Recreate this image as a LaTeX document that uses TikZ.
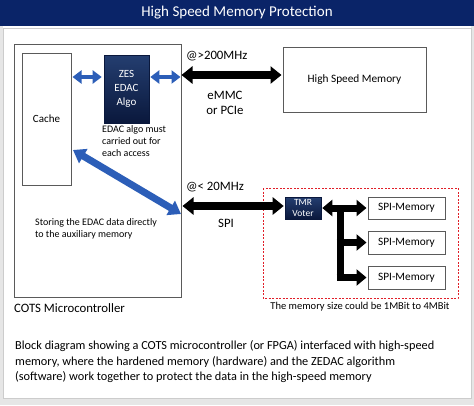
\documentclass[tikz,border=0pt]{standalone}
\usepackage{fontspec}
\setmainfont{Carlito}
\usetikzlibrary{arrows.meta,calc}
\definecolor{navy}{RGB}{10,36,104}
\definecolor{navytop}{RGB}{36,62,112}
\definecolor{navybot}{RGB}{10,24,60}
\definecolor{arrblue}{RGB}{44,94,184}
\definecolor{boxgray}{RGB}{90,90,90}
\definecolor{bggray}{RGB}{230,230,230}
\definecolor{dashred}{RGB}{225,30,40}
\tikzset{
  plainbox/.style={draw=boxgray, line width=1pt, fill=white, inner sep=0pt},
  navybox/.style={draw=navybot, line width=0.6pt, top color=navytop, bottom color=navybot, text=white, inner sep=0pt, align=center},
  bluearr/.style={draw=arrblue, line width=4.5pt, {Triangle[length=9pt,width=13pt]}-{Triangle[length=9pt,width=13pt]}},
  bigblue/.style={draw=arrblue, line width=7pt, {Triangle[length=12pt,width=16pt]}-{Triangle[length=12pt,width=16pt]}},
  blackarr/.style={draw=black, line width=8pt, {Triangle[length=11pt,width=17pt]}-{Triangle[length=11pt,width=17pt]}},
  tmrarr/.style={draw=black, line width=7pt},
  lbl/.style={inner sep=0pt, font=\fontsize{12.8}{15}\selectfont},
  small/.style={inner sep=0pt, font=\fontsize{10}{12}\selectfont, align=left},
}
\begin{document}
\begin{tikzpicture}[x=1pt,y=-1pt]
\useasboundingbox (0,0) rectangle (474,405);
% background and panel
\fill[bggray] (0,0) rectangle (474,405);
\fill[white] (3,26) rectangle (471,398);
\draw[gray!40, line width=0.6pt] (3,28) rectangle (471,398);
\fill[navy] (0,0) rectangle (474,26);
\node[text=white, font=\fontsize{15}{18}\selectfont] (title) at (237,13) {High Speed Memory Protection};

% microcontroller
\node[plainbox, minimum width=167pt, minimum height=253pt] (mc) at (97.5,170.5) {};
\node[plainbox, minimum width=49pt, minimum height=132pt, font=\fontsize{11}{13}\selectfont] (cache) at (46.5,119) {Cache};
\node[navybox, minimum width=45pt, minimum height=68pt, font=\fontsize{11}{14}\selectfont] (algo) at (126.5,89) {ZES\\EDAC\\Algo};

% high speed memory
\node[plainbox, minimum width=143pt, minimum height=65pt, font=\fontsize{11.3}{13}\selectfont] (hsm) at (354.5,79.5) {High Speed Memory};

% SPI section
\draw[dashred, line width=0.9pt, dash pattern=on 2pt off 1.5pt] (263,188) rectangle (458,298);
\node[navybox, minimum width=36pt, minimum height=22pt, font=\fontsize{9.5}{11}\selectfont] (tmr) at (303,208) {TMR\\Voter};
\node[plainbox, minimum width=77pt, minimum height=22pt, font=\fontsize{11.3}{13}\selectfont] (sp1) at (406.5,208) {SPI-Memory};
\node[plainbox, minimum width=77pt, minimum height=23pt, font=\fontsize{11.3}{13}\selectfont] (sp2) at (406.5,242.5) {SPI-Memory};
\node[plainbox, minimum width=77pt, minimum height=23pt, font=\fontsize{11.3}{13}\selectfont] (sp3) at (406.5,277.5) {SPI-Memory};

% blue arrows
\draw[bluearr, shorten <=1pt, shorten >=2pt] (cache.east |- 0,77) -- (algo.west |- 0,77);
\draw[bluearr, shorten <=1pt, shorten >=1pt] (algo.east |- 0,77) -- (mc.east |- 0,77);
\coordinate (dgA) at (73,150);
\coordinate (dgB) at (181,214);
\draw[bigblue] (dgA) -- (dgB);

% black arrows
\draw[blackarr, shorten >=1pt] (mc.east |- 0,75) -- (hsm.west |- 0,75);
\draw[blackarr, shorten <=1pt, shorten >=1pt] (mc.east |- 0,206) -- (tmr.west |- 0,206);
\coordinate (bus) at (340,208);
\draw[tmrarr, {Triangle[length=10pt,width=16pt]}-{Triangle[length=10pt,width=16pt]}, shorten <=1pt, shorten >=1pt] (tmr.east) -- (sp1.west);
\draw[tmrarr] (bus) -- (bus |- sp3.west);
\draw[tmrarr, -{Triangle[length=10pt,width=16pt]}, shorten >=1pt] ($(bus |- sp2.west)+(-3.5,0)$) -- (sp2.west);
\draw[tmrarr, -{Triangle[length=10pt,width=16pt]}, shorten >=1pt] ($(bus |- sp3.west)+(-3.5,0)$) -- (sp3.west);

% labels
\node[lbl, anchor=west] (l200) at (186,56) {@>200MHz};
\node[lbl, align=center] (lemmc) at (225,103) {eMMC\\or PCIe};
\node[small, anchor=north west] (ledac) at (102,125) {EDAC algo must\\carried out for\\each access};
\node[lbl, anchor=west] (l20) at (186,187) {@< 20MHz};
\node[lbl] (lspi) at (226,223) {SPI};
\node[small, anchor=west] (lstore) at (35,229) {Storing the EDAC data directly\\to the auxiliary memory};
\node[lbl, anchor=west] (lcots) at (14,308) {COTS Microcontroller};
\node[inner sep=0pt, font=\fontsize{10.5}{12}\selectfont] (lsize) at (360,307) {The memory size could be 1MBit to 4MBit};
\node[inner sep=0pt, anchor=west, align=left, font=\fontsize{12.3}{15.5}\selectfont] (cap) at (15,362) {Block diagram showing a COTS microcontroller (or FPGA) interfaced with high-speed\\memory, where the hardened memory (hardware) and the ZEDAC algorithm\\(software) work together to protect the data in the high-speed memory};
\end{tikzpicture}
\end{document}
